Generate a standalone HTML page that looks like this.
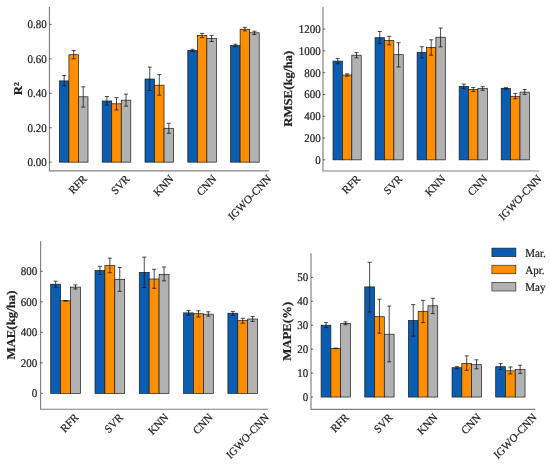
<!DOCTYPE html>
<html lang="en"><head><meta charset="utf-8"><title>Model comparison</title>
<style>html,body{margin:0;padding:0;background:#fff}body{width:550px;height:467px;overflow:hidden}</style></head>
<body>
<svg width="550" height="467" viewBox="0 0 550 467" style="display:block">
<rect width="550" height="467" fill="#fff"/>
<g font-family='"Liberation Serif", "DejaVu Serif", serif' fill="#222" stroke="#222" stroke-width="0.22" text-rendering="geometricPrecision">
<rect x="59.40" y="80.90" width="9.53" height="81.25" fill="#0A5DB0" stroke="#1a1a1a" stroke-width="0.7"/>
<rect x="68.93" y="54.70" width="9.53" height="107.45" fill="#FF8F00" stroke="#1a1a1a" stroke-width="0.7"/>
<rect x="78.46" y="96.80" width="9.53" height="65.35" fill="#B2B2B2" stroke="#1a1a1a" stroke-width="0.7"/>
<path d="M64.16 75.50V85.80M62.11 75.50H66.21M62.11 85.80H66.21" stroke="#111" stroke-width="0.75" fill="none"/>
<path d="M73.69 50.50V58.80M71.64 50.50H75.74M71.64 58.80H75.74" stroke="#111" stroke-width="0.75" fill="none"/>
<path d="M83.22 86.80V107.10M81.17 86.80H85.27M81.17 107.10H85.27" stroke="#111" stroke-width="0.75" fill="none"/>
<rect x="102.20" y="101.00" width="9.53" height="61.15" fill="#0A5DB0" stroke="#1a1a1a" stroke-width="0.7"/>
<rect x="111.73" y="103.80" width="9.53" height="58.35" fill="#FF8F00" stroke="#1a1a1a" stroke-width="0.7"/>
<rect x="121.26" y="100.20" width="9.53" height="61.95" fill="#B2B2B2" stroke="#1a1a1a" stroke-width="0.7"/>
<path d="M106.96 96.50V105.10M104.91 96.50H109.01M104.91 105.10H109.01" stroke="#111" stroke-width="0.75" fill="none"/>
<path d="M116.49 97.60V110.00M114.44 97.60H118.54M114.44 110.00H118.54" stroke="#111" stroke-width="0.75" fill="none"/>
<path d="M126.02 94.20V106.10M123.97 94.20H128.07M123.97 106.10H128.07" stroke="#111" stroke-width="0.75" fill="none"/>
<rect x="145.00" y="79.00" width="9.53" height="83.15" fill="#0A5DB0" stroke="#1a1a1a" stroke-width="0.7"/>
<rect x="154.53" y="85.20" width="9.53" height="76.95" fill="#FF8F00" stroke="#1a1a1a" stroke-width="0.7"/>
<rect x="164.06" y="128.30" width="9.53" height="33.85" fill="#B2B2B2" stroke="#1a1a1a" stroke-width="0.7"/>
<path d="M149.76 67.10V90.50M147.71 67.10H151.81M147.71 90.50H151.81" stroke="#111" stroke-width="0.75" fill="none"/>
<path d="M159.29 74.60V95.20M157.24 74.60H161.34M157.24 95.20H161.34" stroke="#111" stroke-width="0.75" fill="none"/>
<path d="M168.82 123.30V133.30M166.77 123.30H170.88M166.77 133.30H170.88" stroke="#111" stroke-width="0.75" fill="none"/>
<rect x="187.80" y="50.40" width="9.53" height="111.75" fill="#0A5DB0" stroke="#1a1a1a" stroke-width="0.7"/>
<rect x="197.33" y="35.60" width="9.53" height="126.55" fill="#FF8F00" stroke="#1a1a1a" stroke-width="0.7"/>
<rect x="206.86" y="38.40" width="9.53" height="123.75" fill="#B2B2B2" stroke="#1a1a1a" stroke-width="0.7"/>
<path d="M192.56 49.30V51.50M190.51 49.30H194.61M190.51 51.50H194.61" stroke="#111" stroke-width="0.75" fill="none"/>
<path d="M202.09 33.40V37.60M200.04 33.40H204.14M200.04 37.60H204.14" stroke="#111" stroke-width="0.75" fill="none"/>
<path d="M211.62 35.60V41.50M209.57 35.60H213.67M209.57 41.50H213.67" stroke="#111" stroke-width="0.75" fill="none"/>
<rect x="230.60" y="45.60" width="9.53" height="116.55" fill="#0A5DB0" stroke="#1a1a1a" stroke-width="0.7"/>
<rect x="240.13" y="29.20" width="9.53" height="132.95" fill="#FF8F00" stroke="#1a1a1a" stroke-width="0.7"/>
<rect x="249.66" y="32.80" width="9.53" height="129.35" fill="#B2B2B2" stroke="#1a1a1a" stroke-width="0.7"/>
<path d="M235.36 44.20V46.70M233.31 44.20H237.41M233.31 46.70H237.41" stroke="#111" stroke-width="0.75" fill="none"/>
<path d="M244.89 27.30V30.90M242.84 27.30H246.94M242.84 30.90H246.94" stroke="#111" stroke-width="0.75" fill="none"/>
<path d="M254.42 31.20V34.50M252.37 31.20H256.47M252.37 34.50H256.47" stroke="#111" stroke-width="0.75" fill="none"/>
<path d="M49.45 7.10V170.80H269.30" stroke="#808080" stroke-width="1.15" fill="none"/>
<path d="M49.45 162.15h2.2" stroke="#333" stroke-width="0.75" fill="none"/>
<text transform="translate(46.70 166.10) scale(0.94,1)" font-size="11.7" text-anchor="end">0.00</text>
<path d="M49.45 127.71h2.2" stroke="#333" stroke-width="0.75" fill="none"/>
<text transform="translate(46.70 131.66) scale(0.94,1)" font-size="11.7" text-anchor="end">0.20</text>
<path d="M49.45 93.28h2.2" stroke="#333" stroke-width="0.75" fill="none"/>
<text transform="translate(46.70 97.23) scale(0.94,1)" font-size="11.7" text-anchor="end">0.40</text>
<path d="M49.45 58.84h2.2" stroke="#333" stroke-width="0.75" fill="none"/>
<text transform="translate(46.70 62.79) scale(0.94,1)" font-size="11.7" text-anchor="end">0.60</text>
<path d="M49.45 24.40h2.2" stroke="#333" stroke-width="0.75" fill="none"/>
<text transform="translate(46.70 28.35) scale(0.94,1)" font-size="11.7" text-anchor="end">0.80</text>
<text transform="translate(82.29 174.20) scale(0.94,1) rotate(-45)" font-size="11.4" text-anchor="end" x="0" y="7.5">RFR</text>
<text transform="translate(125.19 174.20) scale(0.94,1) rotate(-45)" font-size="11.4" text-anchor="end" x="0" y="7.5">SVR</text>
<text transform="translate(169.09 174.20) scale(0.94,1) rotate(-45)" font-size="11.4" text-anchor="end" x="0" y="7.5">KNN</text>
<text transform="translate(211.89 174.20) scale(0.94,1) rotate(-45)" font-size="11.4" text-anchor="end" x="0" y="7.5">CNN</text>
<text transform="translate(266.69 174.20) scale(0.94,1) rotate(-45)" font-size="11.4" text-anchor="end" x="0" y="7.5">IGWO-CNN</text>
<text transform="translate(21.50 88.80) scale(0.94,1) rotate(-90)" font-size="12.8" font-weight="bold" text-anchor="middle">R²</text>
<rect x="333.00" y="61.10" width="9.40" height="98.75" fill="#0A5DB0" stroke="#1a1a1a" stroke-width="0.7"/>
<rect x="342.40" y="75.00" width="9.40" height="84.85" fill="#FF8F00" stroke="#1a1a1a" stroke-width="0.7"/>
<rect x="351.80" y="55.20" width="9.40" height="104.65" fill="#B2B2B2" stroke="#1a1a1a" stroke-width="0.7"/>
<path d="M337.70 58.50V63.70M335.65 58.50H339.75M335.65 63.70H339.75" stroke="#111" stroke-width="0.75" fill="none"/>
<path d="M347.10 73.90V76.20M345.05 73.90H349.15M345.05 76.20H349.15" stroke="#111" stroke-width="0.75" fill="none"/>
<path d="M356.50 52.60V57.80M354.45 52.60H358.55M354.45 57.80H358.55" stroke="#111" stroke-width="0.75" fill="none"/>
<rect x="375.05" y="37.70" width="9.40" height="122.15" fill="#0A5DB0" stroke="#1a1a1a" stroke-width="0.7"/>
<rect x="384.45" y="40.50" width="9.40" height="119.35" fill="#FF8F00" stroke="#1a1a1a" stroke-width="0.7"/>
<rect x="393.85" y="54.70" width="9.40" height="105.15" fill="#B2B2B2" stroke="#1a1a1a" stroke-width="0.7"/>
<path d="M379.75 31.50V43.60M377.70 31.50H381.80M377.70 43.60H381.80" stroke="#111" stroke-width="0.75" fill="none"/>
<path d="M389.15 36.30V44.80M387.10 36.30H391.20M387.10 44.80H391.20" stroke="#111" stroke-width="0.75" fill="none"/>
<path d="M398.55 42.70V67.00M396.50 42.70H400.60M396.50 67.00H400.60" stroke="#111" stroke-width="0.75" fill="none"/>
<rect x="417.10" y="52.30" width="9.40" height="107.55" fill="#0A5DB0" stroke="#1a1a1a" stroke-width="0.7"/>
<rect x="426.50" y="47.40" width="9.40" height="112.45" fill="#FF8F00" stroke="#1a1a1a" stroke-width="0.7"/>
<rect x="435.90" y="37.20" width="9.40" height="122.65" fill="#B2B2B2" stroke="#1a1a1a" stroke-width="0.7"/>
<path d="M421.80 46.70V58.00M419.75 46.70H423.85M419.75 58.00H423.85" stroke="#111" stroke-width="0.75" fill="none"/>
<path d="M431.20 39.80V55.20M429.15 39.80H433.25M429.15 55.20H433.25" stroke="#111" stroke-width="0.75" fill="none"/>
<path d="M440.60 28.00V46.90M438.55 28.00H442.65M438.55 46.90H442.65" stroke="#111" stroke-width="0.75" fill="none"/>
<rect x="459.15" y="86.30" width="9.40" height="73.55" fill="#0A5DB0" stroke="#1a1a1a" stroke-width="0.7"/>
<rect x="468.55" y="89.50" width="9.40" height="70.35" fill="#FF8F00" stroke="#1a1a1a" stroke-width="0.7"/>
<rect x="477.95" y="88.60" width="9.40" height="71.25" fill="#B2B2B2" stroke="#1a1a1a" stroke-width="0.7"/>
<path d="M463.85 84.10V88.60M461.80 84.10H465.90M461.80 88.60H465.90" stroke="#111" stroke-width="0.75" fill="none"/>
<path d="M473.25 87.50V91.40M471.20 87.50H475.30M471.20 91.40H475.30" stroke="#111" stroke-width="0.75" fill="none"/>
<path d="M482.65 86.70V90.30M480.60 86.70H484.70M480.60 90.30H484.70" stroke="#111" stroke-width="0.75" fill="none"/>
<rect x="501.20" y="88.30" width="9.40" height="71.55" fill="#0A5DB0" stroke="#1a1a1a" stroke-width="0.7"/>
<rect x="510.60" y="96.30" width="9.40" height="63.55" fill="#FF8F00" stroke="#1a1a1a" stroke-width="0.7"/>
<rect x="520.00" y="92.10" width="9.40" height="67.75" fill="#B2B2B2" stroke="#1a1a1a" stroke-width="0.7"/>
<path d="M505.90 87.70V89.10M503.85 87.70H507.95M503.85 89.10H507.95" stroke="#111" stroke-width="0.75" fill="none"/>
<path d="M515.30 93.40V98.80M513.25 93.40H517.35M513.25 98.80H517.35" stroke="#111" stroke-width="0.75" fill="none"/>
<path d="M524.70 89.50V94.40M522.65 89.50H526.75M522.65 94.40H526.75" stroke="#111" stroke-width="0.75" fill="none"/>
<path d="M323.00 7.10V170.95H539.40" stroke="#808080" stroke-width="1.15" fill="none"/>
<path d="M323.00 159.85h2.2" stroke="#333" stroke-width="0.75" fill="none"/>
<text transform="translate(320.70 163.80) scale(0.94,1)" font-size="11.7" text-anchor="end">0</text>
<path d="M323.00 138.06h2.2" stroke="#333" stroke-width="0.75" fill="none"/>
<text transform="translate(320.70 142.01) scale(0.94,1)" font-size="11.7" text-anchor="end">200</text>
<path d="M323.00 116.27h2.2" stroke="#333" stroke-width="0.75" fill="none"/>
<text transform="translate(320.70 120.22) scale(0.94,1)" font-size="11.7" text-anchor="end">400</text>
<path d="M323.00 94.47h2.2" stroke="#333" stroke-width="0.75" fill="none"/>
<text transform="translate(320.70 98.42) scale(0.94,1)" font-size="11.7" text-anchor="end">600</text>
<path d="M323.00 72.68h2.2" stroke="#333" stroke-width="0.75" fill="none"/>
<text transform="translate(320.70 76.63) scale(0.94,1)" font-size="11.7" text-anchor="end">800</text>
<path d="M323.00 50.89h2.2" stroke="#333" stroke-width="0.75" fill="none"/>
<text transform="translate(320.70 54.84) scale(0.94,1)" font-size="11.7" text-anchor="end">1000</text>
<path d="M323.00 29.10h2.2" stroke="#333" stroke-width="0.75" fill="none"/>
<text transform="translate(320.70 33.05) scale(0.94,1)" font-size="11.7" text-anchor="end">1200</text>
<text transform="translate(355.70 174.20) scale(0.94,1) rotate(-45)" font-size="11.4" text-anchor="end" x="0" y="7.5">RFR</text>
<text transform="translate(397.85 174.20) scale(0.94,1) rotate(-45)" font-size="11.4" text-anchor="end" x="0" y="7.5">SVR</text>
<text transform="translate(441.00 174.20) scale(0.94,1) rotate(-45)" font-size="11.4" text-anchor="end" x="0" y="7.5">KNN</text>
<text transform="translate(483.05 174.20) scale(0.94,1) rotate(-45)" font-size="11.4" text-anchor="end" x="0" y="7.5">CNN</text>
<text transform="translate(537.10 174.20) scale(0.94,1) rotate(-45)" font-size="11.4" text-anchor="end" x="0" y="7.5">IGWO-CNN</text>
<text transform="translate(292.00 88.80) scale(0.94,1) rotate(-90)" font-size="12.8" font-weight="bold" text-anchor="middle">RMSE(kg/ha)</text>
<rect x="50.70" y="284.20" width="9.90" height="109.15" fill="#0A5DB0" stroke="#1a1a1a" stroke-width="0.7"/>
<rect x="60.60" y="300.80" width="9.90" height="92.55" fill="#FF8F00" stroke="#1a1a1a" stroke-width="0.7"/>
<rect x="70.50" y="287.10" width="9.90" height="106.25" fill="#B2B2B2" stroke="#1a1a1a" stroke-width="0.7"/>
<path d="M55.65 281.20V287.10M53.60 281.20H57.70M53.60 287.10H57.70" stroke="#111" stroke-width="0.75" fill="none"/>
<path d="M65.55 300.50V301.10M63.50 300.50H67.60M63.50 301.10H67.60" stroke="#111" stroke-width="0.75" fill="none"/>
<path d="M75.45 284.90V289.00M73.40 284.90H77.50M73.40 289.00H77.50" stroke="#111" stroke-width="0.75" fill="none"/>
<rect x="95.00" y="270.50" width="9.90" height="122.85" fill="#0A5DB0" stroke="#1a1a1a" stroke-width="0.7"/>
<rect x="104.90" y="265.60" width="9.90" height="127.75" fill="#FF8F00" stroke="#1a1a1a" stroke-width="0.7"/>
<rect x="114.80" y="279.50" width="9.90" height="113.85" fill="#B2B2B2" stroke="#1a1a1a" stroke-width="0.7"/>
<path d="M99.95 266.30V274.50M97.90 266.30H102.00M97.90 274.50H102.00" stroke="#111" stroke-width="0.75" fill="none"/>
<path d="M109.85 258.20V272.70M107.80 258.20H111.90M107.80 272.70H111.90" stroke="#111" stroke-width="0.75" fill="none"/>
<path d="M119.75 267.50V291.30M117.70 267.50H121.80M117.70 291.30H121.80" stroke="#111" stroke-width="0.75" fill="none"/>
<rect x="139.30" y="272.40" width="9.90" height="120.95" fill="#0A5DB0" stroke="#1a1a1a" stroke-width="0.7"/>
<rect x="149.20" y="279.00" width="9.90" height="114.35" fill="#FF8F00" stroke="#1a1a1a" stroke-width="0.7"/>
<rect x="159.10" y="274.30" width="9.90" height="119.05" fill="#B2B2B2" stroke="#1a1a1a" stroke-width="0.7"/>
<path d="M144.25 257.10V287.50M142.20 257.10H146.30M142.20 287.50H146.30" stroke="#111" stroke-width="0.75" fill="none"/>
<path d="M154.15 269.30V288.30M152.10 269.30H156.20M152.10 288.30H156.20" stroke="#111" stroke-width="0.75" fill="none"/>
<path d="M164.05 267.00V280.90M162.00 267.00H166.10M162.00 280.90H166.10" stroke="#111" stroke-width="0.75" fill="none"/>
<rect x="183.60" y="312.90" width="9.90" height="80.45" fill="#0A5DB0" stroke="#1a1a1a" stroke-width="0.7"/>
<rect x="193.50" y="313.70" width="9.90" height="79.65" fill="#FF8F00" stroke="#1a1a1a" stroke-width="0.7"/>
<rect x="203.40" y="314.20" width="9.90" height="79.15" fill="#B2B2B2" stroke="#1a1a1a" stroke-width="0.7"/>
<path d="M188.55 310.60V315.20M186.50 310.60H190.60M186.50 315.20H190.60" stroke="#111" stroke-width="0.75" fill="none"/>
<path d="M198.45 310.80V317.00M196.40 310.80H200.50M196.40 317.00H200.50" stroke="#111" stroke-width="0.75" fill="none"/>
<path d="M208.35 311.80V316.20M206.30 311.80H210.40M206.30 316.20H210.40" stroke="#111" stroke-width="0.75" fill="none"/>
<rect x="227.90" y="313.20" width="9.90" height="80.15" fill="#0A5DB0" stroke="#1a1a1a" stroke-width="0.7"/>
<rect x="237.80" y="320.60" width="9.90" height="72.75" fill="#FF8F00" stroke="#1a1a1a" stroke-width="0.7"/>
<rect x="247.70" y="319.00" width="9.90" height="74.35" fill="#B2B2B2" stroke="#1a1a1a" stroke-width="0.7"/>
<path d="M232.85 311.40V315.40M230.80 311.40H234.90M230.80 315.40H234.90" stroke="#111" stroke-width="0.75" fill="none"/>
<path d="M242.75 318.30V323.20M240.70 318.30H244.80M240.70 323.20H244.80" stroke="#111" stroke-width="0.75" fill="none"/>
<path d="M252.65 316.50V321.40M250.60 316.50H254.70M250.60 321.40H254.70" stroke="#111" stroke-width="0.75" fill="none"/>
<path d="M40.60 241.20V409.20H268.00" stroke="#808080" stroke-width="1.15" fill="none"/>
<path d="M40.60 393.35h2.2" stroke="#333" stroke-width="0.75" fill="none"/>
<text transform="translate(37.30 397.30) scale(0.94,1)" font-size="11.7" text-anchor="end">0</text>
<path d="M40.60 362.84h2.2" stroke="#333" stroke-width="0.75" fill="none"/>
<text transform="translate(37.30 366.79) scale(0.94,1)" font-size="11.7" text-anchor="end">200</text>
<path d="M40.60 332.33h2.2" stroke="#333" stroke-width="0.75" fill="none"/>
<text transform="translate(37.30 336.28) scale(0.94,1)" font-size="11.7" text-anchor="end">400</text>
<path d="M40.60 301.81h2.2" stroke="#333" stroke-width="0.75" fill="none"/>
<text transform="translate(37.30 305.76) scale(0.94,1)" font-size="11.7" text-anchor="end">600</text>
<path d="M40.60 271.30h2.2" stroke="#333" stroke-width="0.75" fill="none"/>
<text transform="translate(37.30 275.25) scale(0.94,1)" font-size="11.7" text-anchor="end">800</text>
<text transform="translate(74.15 412.70) scale(0.94,1) rotate(-45)" font-size="11.4" text-anchor="end" x="0" y="7.5">RFR</text>
<text transform="translate(118.55 412.70) scale(0.94,1) rotate(-45)" font-size="11.4" text-anchor="end" x="0" y="7.5">SVR</text>
<text transform="translate(163.95 412.70) scale(0.94,1) rotate(-45)" font-size="11.4" text-anchor="end" x="0" y="7.5">KNN</text>
<text transform="translate(208.25 412.70) scale(0.94,1) rotate(-45)" font-size="11.4" text-anchor="end" x="0" y="7.5">CNN</text>
<text transform="translate(264.55 412.70) scale(0.94,1) rotate(-45)" font-size="11.4" text-anchor="end" x="0" y="7.5">IGWO-CNN</text>
<text transform="translate(14.90 325.00) scale(0.94,1) rotate(-90)" font-size="12.8" font-weight="bold" text-anchor="middle">MAE(kg/ha)</text>
<rect x="321.10" y="325.20" width="9.78" height="71.85" fill="#0A5DB0" stroke="#1a1a1a" stroke-width="0.7"/>
<rect x="330.88" y="348.40" width="9.78" height="48.65" fill="#FF8F00" stroke="#1a1a1a" stroke-width="0.7"/>
<rect x="340.66" y="323.50" width="9.78" height="73.55" fill="#B2B2B2" stroke="#1a1a1a" stroke-width="0.7"/>
<path d="M325.99 322.60V327.60M323.94 322.60H328.04M323.94 327.60H328.04" stroke="#111" stroke-width="0.75" fill="none"/>
<path d="M335.77 348.10V348.70M333.72 348.10H337.82M333.72 348.70H337.82" stroke="#111" stroke-width="0.75" fill="none"/>
<path d="M345.55 321.90V324.70M343.50 321.90H347.60M343.50 324.70H347.60" stroke="#111" stroke-width="0.75" fill="none"/>
<rect x="364.75" y="286.90" width="9.78" height="110.15" fill="#0A5DB0" stroke="#1a1a1a" stroke-width="0.7"/>
<rect x="374.53" y="316.70" width="9.78" height="80.35" fill="#FF8F00" stroke="#1a1a1a" stroke-width="0.7"/>
<rect x="384.31" y="334.20" width="9.78" height="62.85" fill="#B2B2B2" stroke="#1a1a1a" stroke-width="0.7"/>
<path d="M369.64 262.30V312.00M367.59 262.30H371.69M367.59 312.00H371.69" stroke="#111" stroke-width="0.75" fill="none"/>
<path d="M379.42 299.20V333.20M377.37 299.20H381.47M377.37 333.20H381.47" stroke="#111" stroke-width="0.75" fill="none"/>
<path d="M389.20 306.10V361.80M387.15 306.10H391.25M387.15 361.80H391.25" stroke="#111" stroke-width="0.75" fill="none"/>
<rect x="408.40" y="320.50" width="9.78" height="76.55" fill="#0A5DB0" stroke="#1a1a1a" stroke-width="0.7"/>
<rect x="418.18" y="311.30" width="9.78" height="85.75" fill="#FF8F00" stroke="#1a1a1a" stroke-width="0.7"/>
<rect x="427.96" y="305.80" width="9.78" height="91.25" fill="#B2B2B2" stroke="#1a1a1a" stroke-width="0.7"/>
<path d="M413.29 304.60V336.10M411.24 304.60H415.34M411.24 336.10H415.34" stroke="#111" stroke-width="0.75" fill="none"/>
<path d="M423.07 300.40V322.60M421.02 300.40H425.12M421.02 322.60H425.12" stroke="#111" stroke-width="0.75" fill="none"/>
<path d="M432.85 298.30V313.60M430.80 298.30H434.90M430.80 313.60H434.90" stroke="#111" stroke-width="0.75" fill="none"/>
<rect x="452.05" y="367.70" width="9.78" height="29.35" fill="#0A5DB0" stroke="#1a1a1a" stroke-width="0.7"/>
<rect x="461.83" y="363.40" width="9.78" height="33.65" fill="#FF8F00" stroke="#1a1a1a" stroke-width="0.7"/>
<rect x="471.61" y="364.70" width="9.78" height="32.35" fill="#B2B2B2" stroke="#1a1a1a" stroke-width="0.7"/>
<path d="M456.94 366.60V368.80M454.89 366.60H458.99M454.89 368.80H458.99" stroke="#111" stroke-width="0.75" fill="none"/>
<path d="M466.72 355.90V370.30M464.67 355.90H468.77M464.67 370.30H468.77" stroke="#111" stroke-width="0.75" fill="none"/>
<path d="M476.50 359.80V368.80M474.45 359.80H478.55M474.45 368.80H478.55" stroke="#111" stroke-width="0.75" fill="none"/>
<rect x="495.70" y="366.70" width="9.78" height="30.35" fill="#0A5DB0" stroke="#1a1a1a" stroke-width="0.7"/>
<rect x="505.48" y="370.80" width="9.78" height="26.25" fill="#FF8F00" stroke="#1a1a1a" stroke-width="0.7"/>
<rect x="515.26" y="369.50" width="9.78" height="27.55" fill="#B2B2B2" stroke="#1a1a1a" stroke-width="0.7"/>
<path d="M500.59 363.60V369.50M498.54 363.60H502.64M498.54 369.50H502.64" stroke="#111" stroke-width="0.75" fill="none"/>
<path d="M510.37 367.00V373.90M508.32 367.00H512.42M508.32 373.90H512.42" stroke="#111" stroke-width="0.75" fill="none"/>
<path d="M520.15 365.20V373.40M518.10 365.20H522.20M518.10 373.40H522.20" stroke="#111" stroke-width="0.75" fill="none"/>
<path d="M311.00 253.30V409.40H535.30" stroke="#808080" stroke-width="1.15" fill="none"/>
<path d="M311.00 397.05h2.2" stroke="#333" stroke-width="0.75" fill="none"/>
<text transform="translate(308.30 401.00) scale(0.94,1)" font-size="11.7" text-anchor="end">0</text>
<path d="M311.00 373.11h2.2" stroke="#333" stroke-width="0.75" fill="none"/>
<text transform="translate(308.30 377.06) scale(0.94,1)" font-size="11.7" text-anchor="end">10</text>
<path d="M311.00 349.17h2.2" stroke="#333" stroke-width="0.75" fill="none"/>
<text transform="translate(308.30 353.12) scale(0.94,1)" font-size="11.7" text-anchor="end">20</text>
<path d="M311.00 325.23h2.2" stroke="#333" stroke-width="0.75" fill="none"/>
<text transform="translate(308.30 329.18) scale(0.94,1)" font-size="11.7" text-anchor="end">30</text>
<path d="M311.00 301.29h2.2" stroke="#333" stroke-width="0.75" fill="none"/>
<text transform="translate(308.30 305.24) scale(0.94,1)" font-size="11.7" text-anchor="end">40</text>
<path d="M311.00 277.35h2.2" stroke="#333" stroke-width="0.75" fill="none"/>
<text transform="translate(308.30 281.30) scale(0.94,1)" font-size="11.7" text-anchor="end">50</text>
<text transform="translate(344.37 412.70) scale(0.94,1) rotate(-45)" font-size="11.4" text-anchor="end" x="0" y="7.5">RFR</text>
<text transform="translate(388.12 412.70) scale(0.94,1) rotate(-45)" font-size="11.4" text-anchor="end" x="0" y="7.5">SVR</text>
<text transform="translate(432.87 412.70) scale(0.94,1) rotate(-45)" font-size="11.4" text-anchor="end" x="0" y="7.5">KNN</text>
<text transform="translate(476.52 412.70) scale(0.94,1) rotate(-45)" font-size="11.4" text-anchor="end" x="0" y="7.5">CNN</text>
<text transform="translate(532.17 412.70) scale(0.94,1) rotate(-45)" font-size="11.4" text-anchor="end" x="0" y="7.5">IGWO-CNN</text>
<text transform="translate(291.30 331.30) scale(0.94,1) rotate(-90)" font-size="12.8" font-weight="bold" text-anchor="middle">MAPE(%)</text>
<rect x="491.9" y="248.1" width="24.0" height="8.6" fill="#0A5DB0" stroke="#1a1a1a" stroke-width="0.6"/>
<text transform="translate(525.3 256.60) scale(0.94,1)" font-size="11.7">Mar.</text>
<rect x="491.9" y="265.2" width="24.0" height="8.6" fill="#FF8F00" stroke="#1a1a1a" stroke-width="0.6"/>
<text transform="translate(525.3 273.70) scale(0.94,1)" font-size="11.7">Apr.</text>
<rect x="491.9" y="282.4" width="24.0" height="8.6" fill="#B2B2B2" stroke="#1a1a1a" stroke-width="0.6"/>
<text transform="translate(525.3 290.90) scale(0.94,1)" font-size="11.7">May</text>
</g></svg>
</body></html>
